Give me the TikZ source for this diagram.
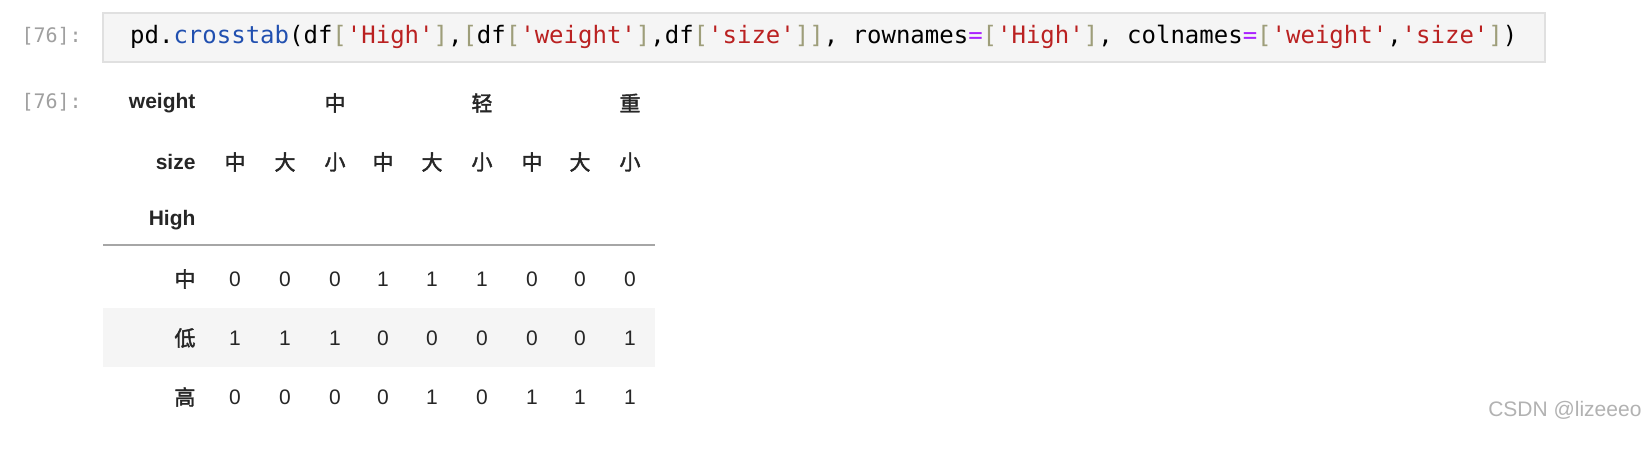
\documentclass[tikz,border=0pt]{standalone}
\usepackage{fontspec}
\setmainfont{Liberation Sans}
\setmonofont{DejaVu Sans Mono}
\newfontfamily\cjk[FakeBold=2]{Noto Sans CJK SC}
\definecolor{codebg}{HTML}{F5F5F5}
\definecolor{codebd}{HTML}{E0E0E0}
\definecolor{strc}{HTML}{BA2121}
\definecolor{brk}{HTML}{9E9E7A}
\definecolor{fnc}{HTML}{2150B0}
\definecolor{opc}{HTML}{AA22FF}
\definecolor{promptc}{HTML}{A0A0A0}
\definecolor{rowbg}{HTML}{F5F5F5}
\begin{document}
\begin{tikzpicture}[x=1pt,y=-1pt,
  prompt/.style={anchor=west,text=promptc,font=\ttfamily\fontsize{20}{20}\selectfont},
  hd/.style={font=\bfseries\fontsize{21}{21}\selectfont,text=black!85},
  ck/.style={font=\cjk\fontsize{21}{21}\selectfont,text=black!85},
  num/.style={font=\fontsize{21}{21}\selectfont,text=black!85}]
\fill[white] (0,0) rectangle (1650,468);
\node[prompt] (p1) at (18,36) {[76]:};
\node[prompt] (p2) at (18,102) {[76]:};
\draw[codebd,fill=codebg,line width=1.5] (103,13) rectangle (1545,62);
\node[anchor=west,inner sep=0,font=\ttfamily\fontsize{24}{24}\selectfont] (code) at (130,37)
 {pd.\textcolor{fnc}{crosstab}(df\textcolor{brk}{[}\textcolor{strc}{'High'}\textcolor{brk}{]},\textcolor{brk}{[}df\textcolor{brk}{[}\textcolor{strc}{'weight'}\textcolor{brk}{]},df\textcolor{brk}{[}\textcolor{strc}{'size'}\textcolor{brk}{]]}, rownames\textcolor{opc}{=}\textcolor{brk}{[}\textcolor{strc}{'High'}\textcolor{brk}{]}, colnames\textcolor{opc}{=}\textcolor{brk}{[}\textcolor{strc}{'weight'},\textcolor{strc}{'size'}\textcolor{brk}{]})};
\fill[rowbg] (103,308) rectangle (655,367);
\draw[black!35,line width=1.2] (103,245) -- (655,245);
\node[hd,anchor=east] (w) at (199,103) {weight};
\node[hd,anchor=east] (s) at (199,162) {size};
\node[hd,anchor=east] (h) at (199,220) {High};
\node[ck] (t1) at (335,103) {中};
\node[ck] (t2) at (482,103) {轻};
\node[ck] (t3) at (630,103) {重};
\foreach \x/\c [count=\i] in {235/中,285/大,335/小,383/中,432/大,482/小,532/中,580/大,630/小}
  \node[ck] (c\i) at (\x,162) {\c};
\node[ck,anchor=east] (r1) at (199,279) {中};
\node[ck,anchor=east] (r2) at (199,338) {低};
\node[ck,anchor=east] (r3) at (199,397) {高};
\foreach \y/\vals [count=\r] in {279/{0,0,0,1,1,1,0,0,0},338/{1,1,1,0,0,0,0,0,1},397/{0,0,0,0,1,0,1,1,1}}{
  \foreach \v [count=\i] in \vals {
    \pgfmathsetmacro\xx{{235,285,335,383,432,482,532,580,630}[\i-1]}
    \node[num] (v\r-\i) at (\xx,\y) {\v};
  }
}
\node[anchor=east,text=black!30,font=\fontsize{21}{21}\selectfont] (wm) at (1645,410) {CSDN @lizeeeo};
\pgfresetboundingbox
\useasboundingbox (0,0) rectangle (1650,468);
\end{tikzpicture}
\end{document}
